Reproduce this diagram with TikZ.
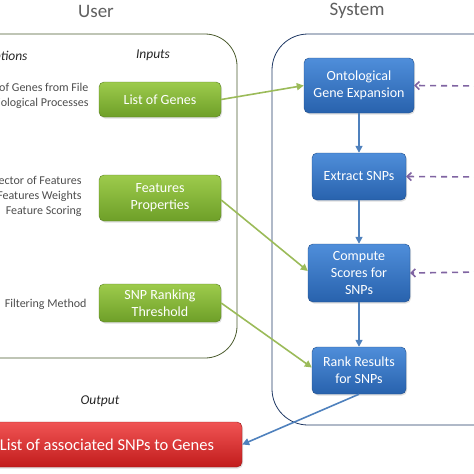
\documentclass[tikz,border=0pt]{standalone}
\usepackage{fontspec}
\setmainfont{Carlito}
\usepackage{xcolor}
\usetikzlibrary{arrows.meta,positioning,calc,shadows}
\definecolor{boxgreentop}{HTML}{9DCB4C}
\definecolor{boxgreenbot}{HTML}{6E9F28}
\definecolor{boxbluetop}{HTML}{4F8EDA}
\definecolor{boxbluebot}{HTML}{2862AD}
\definecolor{boxredtop}{HTML}{F05454}
\definecolor{boxredbot}{HTML}{C21C1C}
\definecolor{linegreen}{HTML}{9BBB59}
\definecolor{lineblue}{HTML}{4F81BD}
\definecolor{linepurple}{HTML}{8064A2}
\definecolor{framegreen}{HTML}{4A5A2C}
\definecolor{frameblue}{HTML}{1F3864}
\definecolor{labelgray}{HTML}{4D4D4D}

\begin{document}
\begin{tikzpicture}[
    x=1pt, y=-1pt,
    font=\fontsize{14}{17}\selectfont,
    box/.style={rectangle, rounded corners=5pt, text=white, align=center, inner sep=2pt,
        drop shadow={opacity=0.25, shadow xshift=1pt, shadow yshift=-1.5pt}},
    greenbox/.style={box, draw=boxgreenbot!80!black, top color=boxgreentop, bottom color=boxgreenbot,
        minimum width=122pt},
    bluebox/.style={box, draw=boxbluebot!80!black, top color=boxbluetop, bottom color=boxbluebot},
    redbox/.style={box, draw=boxredbot!80!black, top color=boxredtop, bottom color=boxredbot,
        font=\fontsize{16.5}{18}\selectfont},
    title/.style={text=labelgray!90, font=\fontsize{19}{21}\selectfont},
    heading/.style={text=black!85, font=\fontsize{13.5}{15}\selectfont\itshape},
    option/.style={text=labelgray, anchor=east, align=right, font=\fontsize{12}{15}\selectfont},
    userarrow/.style={-{Triangle[length=7pt,width=7pt]}, draw=linegreen, line width=1.6pt},
    sysarrow/.style={-{Triangle[length=7pt,width=7pt]}, draw=lineblue, line width=1.6pt},
    dasharrow/.style={-{Straight Barb[length=4pt,width=8pt]}, draw=linepurple, line width=1.6pt,
        dash pattern=on 6pt off 5pt}
]
    \clip (0,0) rectangle (474,474);

    % frames
    \draw[framegreen, thick, rounded corners=32pt] (-40,34) rectangle (237,358);
    \draw[frameblue, thick, rounded corners=36pt] (272,34) rectangle (520,425);

    \node[title] (user) at (96,11) {User};
    \node[title] (system) at (357,11) {System};
    \node[heading, anchor=east] (options) at (31,57) {Options};
    \node[heading] (inputs) at (153,55) {Inputs};
    \node[heading] (output) at (100,401) {Output};

    % user side
    \node[greenbox, minimum height=35pt] (genes) at (160,99.5) {List of Genes};
    \node[greenbox, minimum height=46pt] (features) at (160,198) {Features\\Properties};
    \node[greenbox, minimum height=38pt] (threshold) at (160,303) {SNP Ranking\\Threshold};

    \node[option] (genesopt) at (92,96) {List of Genes from File\\Biological Processes};
    \node[option] (featuresopt) at (85,196) {Vector of Features\\Features Weights\\Feature Scoring};
    \node[option] (thresholdopt) at (90,304) {Filtering Method};

    % system side
    \node[bluebox, minimum width=110pt, minimum height=55pt] (expansion) at (359,85.5) {Ontological\\Gene Expansion};
    \node[bluebox, minimum width=94pt, minimum height=47pt] (extract) at (359,176.5) {Extract SNPs};
    \node[bluebox, minimum width=102pt, minimum height=58pt] (scores) at (359,273) {Compute\\Scores for\\SNPs};
    \node[bluebox, minimum width=94pt, minimum height=47pt] (rank) at (359,370.5) {Rank Results\\for SNPs};

    \node[redbox, minimum width=270pt, minimum height=45pt] (result) at (107,444.5) {List of associated SNPs to Genes};

    \coordinate (ext1) at (480,86);
    \coordinate (ext2) at (480,177);
    \coordinate (ext3) at (480,272);

    \draw[userarrow] (genes.east) -- (expansion.west);
    \draw[userarrow] ($(features.east)+(0,2)$) -- ($(scores.west)+(0,-2)$);
    \draw[userarrow] (threshold.east) -- ($(rank.west)+(0,-3)$);

    \draw[sysarrow] (expansion) -- (extract);
    \draw[sysarrow] (extract) -- (scores);
    \draw[sysarrow] (scores) -- (rank);
    \draw[sysarrow] (rank.south) -- (result.east);

    \draw[dasharrow] (ext1) -- (expansion.east);
    \draw[dasharrow] (ext2) -- (extract.east);
    \draw[dasharrow] (ext3) -- (scores.east);
\end{tikzpicture}
\end{document}
